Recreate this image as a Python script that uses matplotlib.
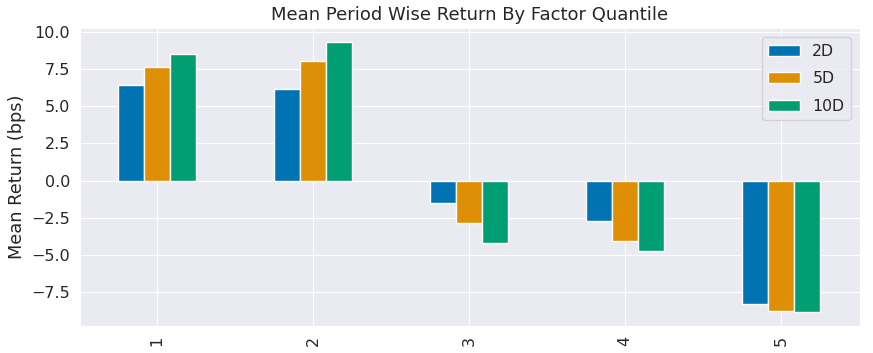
import matplotlib
matplotlib.use("Agg")
import matplotlib.pyplot as plt
import numpy as np
import seaborn as sns

sns.set_style("darkgrid")
plt.rcParams['font.family'] = ['DejaVu Sans']

quantiles = ["1", "2", "3", "4", "5"]
periods = ["2D", "5D", "10D"]
ret_2d = [6.40, 6.19, -1.50, -2.70, -8.28]
ret_5d = [7.65, 8.07, -2.87, -4.05, -8.80]
ret_10d = [8.54, 9.35, -4.20, -4.76, -8.87]
series = [ret_2d, ret_5d, ret_10d]
colors = ["#0173b2", "#de8f05", "#029e73"]

fig = plt.figure(figsize=(8.73, 3.53), dpi=100)
ax = fig.add_axes([80/873, 1-326/353, 780/873, 298/353])

x = np.arange(len(quantiles))
w = 0.5 / 3
for i, (name, vals, c) in enumerate(zip(periods, series, colors)):
    ax.bar(x + (i - 1) * w, vals, width=w, color=c, edgecolor="white",
           linewidth=1.0, label=name)

ax.set_xlim(-0.494, 4.506)
ax.set_xticks(x)
ax.set_xticklabels(quantiles, rotation=90)
ax.tick_params(labelsize=11.5)
ax.set_ylabel("Mean Return (bps)", fontsize=12.8)
ax.set_title("Mean Period Wise Return By Factor Quantile", fontsize=13)
ax.legend(loc="upper right", fontsize=11.3, labelspacing=0.8,
          handlelength=2.0, borderaxespad=0.6)

fig.savefig("out.png", dpi=100)
